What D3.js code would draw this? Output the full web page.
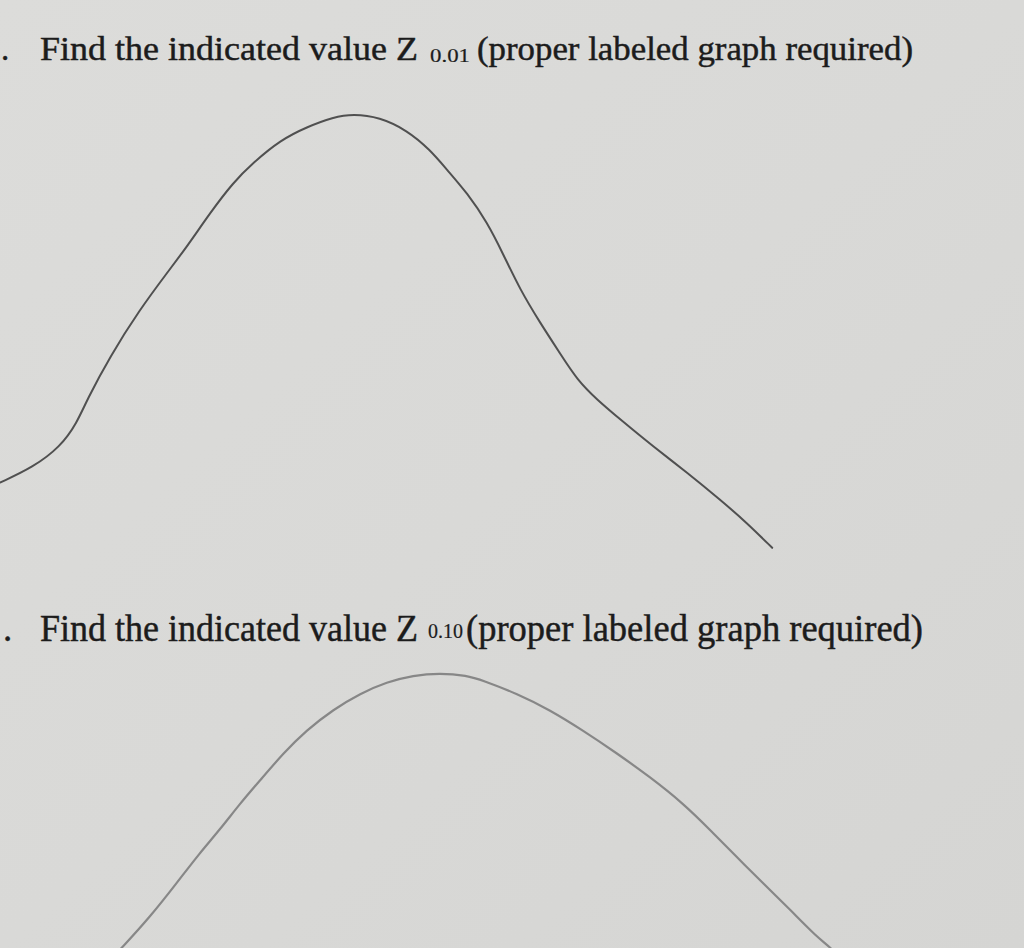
<!DOCTYPE html>
<html>
<head>
<meta charset="utf-8">
<script src="https://cdn.jsdelivr.net/npm/d3@7"></script>
<style>
  html, body { margin: 0; padding: 0; background: #dadad8; overflow: hidden; }
  svg { display: block; }
</style>
</head>
<body>
<div id="sheet"></div>
<script>
// question lines (printed text)
const questions = ["Find the indicated value Z", "Find the indicated value Z"];
const subscripts = ["0.01", "0.10"];
const tails = ["(proper labeled graph required)", "(proper labeled graph required)"];

// hand-drawn curve 1 (z units, density)
const curve1Z = [-3.20, -2.90, -2.65, -2.50, -2.41, -2.20, -1.93, -1.68, -1.50, -1.29, -1.08, -0.90, -0.65, -0.41, -0.17, 0.01, 0.25, 0.50, 0.71, 0.86, 1.05, 1.23, 1.37, 1.53, 1.71, 1.89, 2.05, 2.23, 2.44, 2.74, 3.05, 3.35, 3.59, 3.82];
const curve1D = [0.062, 0.076, 0.095, 0.117, 0.138, 0.178, 0.221, 0.255, 0.279, 0.310, 0.338, 0.356, 0.377, 0.389, 0.398, 0.401, 0.398, 0.386, 0.368, 0.350, 0.328, 0.301, 0.273, 0.239, 0.209, 0.181, 0.156, 0.138, 0.120, 0.095, 0.071, 0.046, 0.025, 0.002];

// hand-drawn curve 2
const curve2Z = [-3.10, -2.92, -2.67, -2.43, -2.22, -2.04, -1.85, -1.67, -1.46, -1.25, -1.01, -0.76, -0.52, -0.28, -0.04, 0.21, 0.35, 0.66, 0.96, 1.26, 1.57, 1.87, 2.17, 2.42, 2.66, 2.90, 3.15, 3.39, 3.51, 3.65];
const curve2D = [0.040, 0.065, 0.102, 0.143, 0.180, 0.208, 0.241, 0.269, 0.302, 0.330, 0.355, 0.375, 0.389, 0.397, 0.400, 0.397, 0.391, 0.375, 0.355, 0.330, 0.302, 0.273, 0.241, 0.208, 0.175, 0.143, 0.110, 0.077, 0.065, 0.045];

const width = 1024, height = 948;

const svg = d3.select("#sheet")
    .append("svg")
    .attr("width", width)
    .attr("height", height);

// paper
const defs = svg.append("defs");
const grad = defs.append("linearGradient")
    .attr("id", "paper")
    .attr("x1", "0").attr("y1", "0")
    .attr("x2", "1").attr("y2", "1");
grad.append("stop").attr("offset", "0%").attr("stop-color", "#dcdcda");
grad.append("stop").attr("offset", "50%").attr("stop-color", "#d9d9d7");
grad.append("stop").attr("offset", "100%").attr("stop-color", "#d5d5d3");

svg.append("rect")
    .attr("width", width)
    .attr("height", height)
    .attr("fill", "url(#paper)");

// scales for each sketch
const x1 = d3.scaleLinear().domain([-3.2, 3.8]).range([0, 770]);
const y1 = d3.scaleLinear().domain([0, 0.4]).range([550, 115]);

const x2 = d3.scaleLinear().domain([0, 1]).range([444, 554]);
const y2 = d3.scaleLinear().domain([0, 0.4]).range([1000, 673]);

const sketches = [
    { z: curve1Z, d: curve1D, x: x1, y: y1, color: "#505050", w: 2 },
    { z: curve2Z, d: curve2D, x: x2, y: y2, color: "#878787", w: 2.2 }
];

sketches.forEach(s => {
    const pts = s.z.map((z, i) => [z, s.d[i]]);
    const line = d3.line()
        .x(p => s.x(p[0]))
        .y(p => s.y(p[1]))
        .curve(d3.curveBasis);
    svg.append("path")
        .attr("d", line(pts))
        .attr("fill", "none")
        .attr("stroke", s.color)
        .attr("stroke-width", s.w)
        .attr("stroke-linecap", "round");
});

// printed text
const rows = [
    { base: 59.5, size: 33, mainEnd: 418, subX: 430, subEnd: 470, subBase: 62, subSize: 18, tailX: 477, tailEnd: 913 },
    { base: 641, size: 37, mainEnd: 418, subX: 428, subEnd: 463, subBase: 638, subSize: 20, tailX: 466, tailEnd: 923 }
];

rows.forEach((r, i) => {
    const g = svg.append("g")
        .attr("font-family", "'Liberation Serif', 'DejaVu Serif', serif")
        .attr("fill", "#1c1c1c")
        .attr("stroke", "#1c1c1c")
        .attr("stroke-width", 0.45);

    g.append("text")
        .attr("x", i === 0 ? 1 : 3)
        .attr("y", r.base)
        .attr("font-size", r.size)
        .text(".");

    g.append("text")
        .attr("x", 40)
        .attr("y", r.base)
        .attr("font-size", r.size)
        .attr("textLength", r.mainEnd - 40)
        .attr("lengthAdjust", "spacingAndGlyphs")
        .text(questions[i]);

    g.append("text")
        .attr("x", r.subX)
        .attr("y", r.subBase)
        .attr("font-size", r.subSize)
        .attr("stroke-width", 0.2)
        .attr("textLength", r.subEnd - r.subX)
        .attr("lengthAdjust", "spacingAndGlyphs")
        .text(subscripts[i]);

    g.append("text")
        .attr("x", r.tailX)
        .attr("y", r.base)
        .attr("font-size", r.size)
        .attr("textLength", r.tailEnd - r.tailX)
        .attr("lengthAdjust", "spacingAndGlyphs")
        .text(tails[i]);
});
</script>
</body>
</html>
